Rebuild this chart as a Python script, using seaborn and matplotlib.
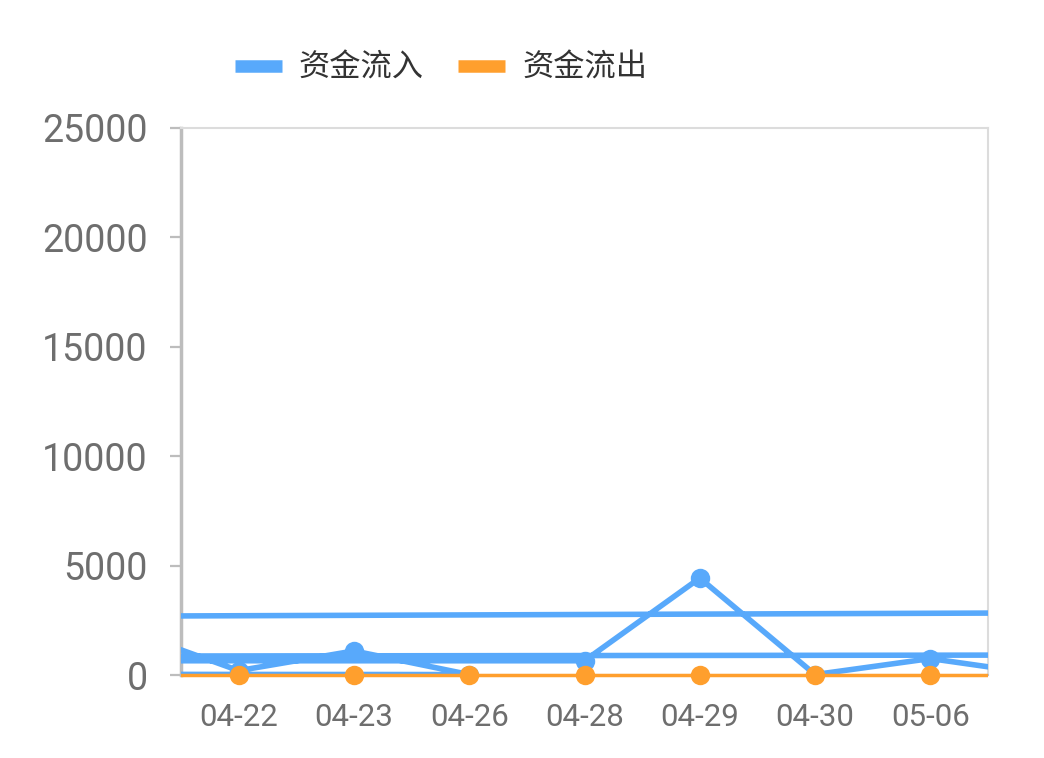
import matplotlib
matplotlib.use("Agg")
import matplotlib.pyplot as plt
from matplotlib.lines import Line2D
from matplotlib.patches import Rectangle
import seaborn as sns
import pandas as pd

sns.set_theme(style="white")
plt.rcParams['font.family'] = ['Roboto', 'Noto Sans CJK SC', 'DejaVu Sans']

# visible categories
categories = ["04-22", "04-23", "04-26", "04-28", "04-29", "04-30", "05-06"]

# inflow series, in the (unsorted) order the chart draws it; positions are category indices,
# entries outside 0..6 lie beyond the visible window
inflow_pos = [-1, 0, 1, 2, -200, 3, 4, 5, 6, 7, 40, -30, -40, 42]
inflow_val = [2100, 200, 1100, 20, 650, 650, 4430, 20, 750, 0, 1100, 700, 1965, 3490]

# outflow series
outflow_pos = [-1, 0, 1, 2, 3, 4, 5, 6, 7]
outflow_val = [0, 0, 0, 0, 0, 0, 0, 0, 0]

series_names = ["资金流入", "资金流出"]
yticks = [0, 5000, 10000, 15000, 20000, 25000]

BLUE = "#58A9FB"
ORANGE = "#FF9F2D"

df_in = pd.DataFrame({"x": inflow_pos, "y": inflow_val})
df_out = pd.DataFrame({"x": outflow_pos, "y": outflow_val})

fig = plt.figure(figsize=(10.44, 7.58), dpi=100)
ax = fig.add_axes([181/1044, 1-675/758, (988-181)/1044, (675-128)/758])

sns.lineplot(data=df_in, x="x", y="y", sort=False, estimator=None, ax=ax,
             color=BLUE, linewidth=4.0, marker="o", markersize=14,
             markeredgewidth=0, zorder=3)
n_before = len(ax.lines)
sns.lineplot(data=df_out, x="x", y="y", sort=False, estimator=None, ax=ax,
             color=ORANGE, linewidth=2.5, marker="o", markersize=14,
             markeredgewidth=0, zorder=4)
# let the outflow markers sit fully on the bottom edge (clip only horizontally)
clip_rect = Rectangle((0, -0.05), 1, 1.1, transform=ax.transAxes, facecolor="none")
for ln in ax.lines[n_before:]:
    ln.set_clip_path(clip_rect)

ax.set_xlim(-0.5, 6.5)
ax.set_ylim(0, 25000)
ax.set_xticks(range(len(categories)))
ax.set_xticklabels(categories)
ax.set_yticks(yticks)
ax.set_yticklabels([str(v) for v in yticks])
ax.set_xlabel("")
ax.set_ylabel("")

for side in ["top", "right", "bottom"]:
    ax.spines[side].set_color("#DCDCDC")
    ax.spines[side].set_linewidth(1.5)
ax.spines["left"].set_color("#BDBDBD")
ax.spines["left"].set_linewidth(2.5)
ax.spines["bottom"].set_color("#BDBDBD")

ax.tick_params(axis="y", which="both", left=True, length=8, width=1.6,
               color="#BDBDBD", pad=16, labelsize=27, labelcolor="#6E6E6E")
ax.tick_params(axis="x", which="both", bottom=False, length=0,
               pad=20, labelsize=22.5, labelcolor="#6E6E6E")

handles = [Line2D([0], [0], color=BLUE, linewidth=9, solid_capstyle="butt"),
           Line2D([0], [0], color=ORANGE, linewidth=9, solid_capstyle="butt")]
leg = fig.legend(handles, series_names, loc="center", bbox_to_anchor=(0.4224, 0.910),
                 ncol=2, frameon=False, fontsize=22.5, handlelength=1.5,
                 handletextpad=0.55, columnspacing=1.1, labelcolor="#333333")

fig.savefig("out.png", dpi=100)
